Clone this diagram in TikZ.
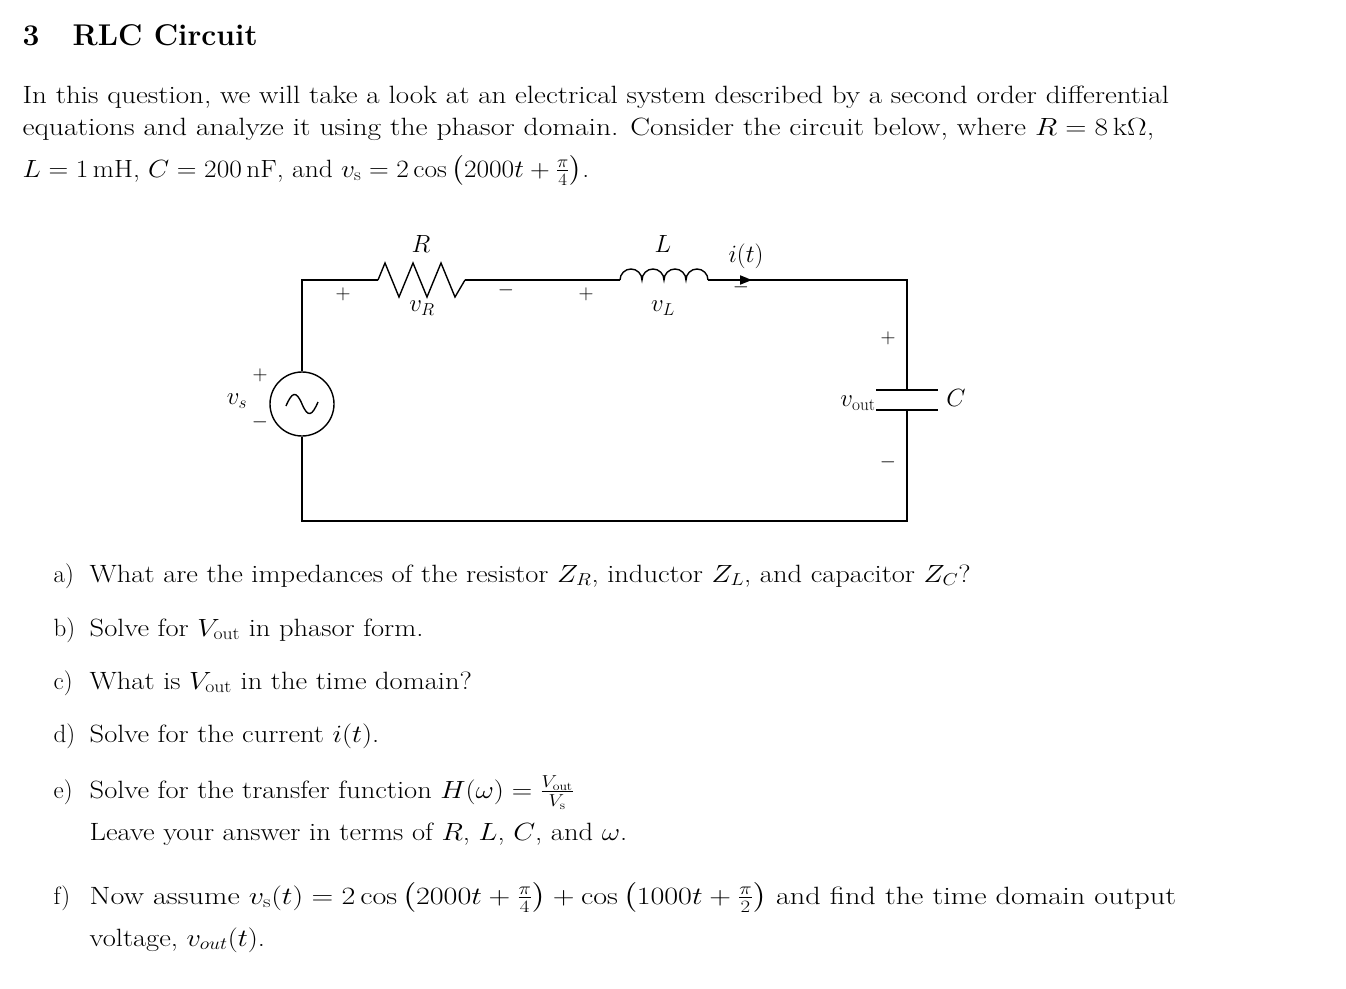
\documentclass[tikz,border=0pt]{standalone}
\usepackage{amsmath}
\usetikzlibrary{arrows.meta}
\newcommand{\Wd}[2][1.16]{\scalebox{#1}[1]{#2}}
\begin{document}
\begin{tikzpicture}[x=1pt,y=-1pt,line width=1.4pt,
  txt/.style={anchor=base west,inner sep=0pt,font=\fontsize{25}{30}\selectfont},
  lab/.style={inner sep=0pt,font=\fontsize{24}{28}\selectfont},
  sgn/.style={inner sep=0pt,font=\fontsize{22}{26}\selectfont}]
\useasboundingbox (0,0) rectangle (1346,988);
% title
\node[txt,font=\fontsize{30}{34}\selectfont\bfseries] (t1) at (22,45) {3};
\node[txt,font=\fontsize{30}{34}\selectfont\bfseries] (t2) at (72,45) {\Wd[1.0]{RLC Circuit}};
\node[txt] (p1) at (22,103) {\Wd{In this question, we will take a look at an electrical system described by a second order differential}};
\node[txt] (p2) at (22,135) {\Wd[1.18]{equations and analyze it using the phasor domain. Consider the circuit below, where $R=8\,\mathrm{k}\Omega$,}};
\node[txt] (p3) at (22,177) {\Wd[1.1]{$L=1\,\mathrm{mH}$, $C=200\,\mathrm{nF}$, and $v_{\mathrm s}=2\cos\left(2000t+\frac{\pi}{4}\right)$.}};
% circuit
\coordinate (tl) at (302,280); \coordinate (tr) at (907,280);
\coordinate (bl) at (302,521); \coordinate (br) at (907,521);
\node[circle,draw,minimum size=64pt,inner sep=0pt] (src) at (302,404) {};
\draw (src.center)+(-16,2) .. controls +(6,-14) and +(-6,-14) .. +(0,0) .. controls +(6,14) and +(-6,14) .. +(16,-2);
\coordinate (r1) at (378,280); \coordinate (r2) at (465,280);
\coordinate (l1) at (620,280); \coordinate (l2) at (708,280);
\coordinate (a2) at (787,280);
\coordinate (c1) at (907,390); \coordinate (c2) at (907,410);
\draw (src.north) -- (tl) -- (r1);
\draw (r1) -- ++(7,-17) -- ++(14,34) -- ++(14,-34) -- ++(14,34) -- ++(14,-34) -- ++(14,34) -- (r2);
\draw (r2) -- (l1);
\draw (l1) arc[start angle=180,end angle=360,radius=11] arc[start angle=180,end angle=360,radius=11] arc[start angle=180,end angle=360,radius=11] arc[start angle=180,end angle=360,radius=11];
\draw[line width=1.8pt] (l2) -- (a2);
\draw[-{Triangle[length=12pt,width=9pt]},line width=1.8pt] (l2) -- (752,280);
\draw (a2) -- (tr) -- (c1);
\draw (876,390) -- (938,390); \draw (876,410) -- (938,410);
\draw (c2) -- (br) -- (bl) -- (src.south);
% labels
\node[lab] (R) at (421,244) {$R$};
\node[lab] (vR) at (422,308) {$v_R$};
\node[lab] (L) at (663,244) {$L$};
\node[lab] (vL) at (663,308) {$v_L$};
\node[lab] (it) at (746,256) {$i(t)$};
\node[lab] (vs) at (237,401) {$v_s$};
\node[lab] (vo) at (858,403) {$v_{\mathrm{out}}$};
\node[lab] (C) at (956,398) {$C$};
\node[sgn] (s1) at (343,294) {$+$};
\node[sgn] (s2) at (506,290) {$-$};
\node[sgn] (s3) at (586,294) {$+$};
\node[sgn] (s4) at (741,287) {$-$};
\node[sgn] (s5) at (260,375) {$+$};
\node[sgn] (s6) at (260,422) {$-$};
\node[sgn] (s7) at (888,338) {$+$};
\node[sgn] (s8) at (888,462) {$-$};
% questions
\node[txt] (qa) at (53,582) {a)};
\node[txt] (qa2) at (89,582) {\Wd[1.14]{What are the impedances of the resistor $Z_R$, inductor $Z_L$, and capacitor $Z_C$?}};
\node[txt] (qb) at (53,636) {b)};
\node[txt] (qb2) at (89,636) {\Wd[1.14]{Solve for $V_{\mathrm{out}}$ in phasor form.}};
\node[txt] (qc) at (53,689) {c)};
\node[txt] (qc2) at (89,689) {\Wd[1.14]{What is $V_{\mathrm{out}}$ in the time domain?}};
\node[txt] (qd) at (53,742) {d)};
\node[txt] (qd2) at (89,742) {\Wd[1.14]{Solve for the current $i(t)$.}};
\node[txt] (qe) at (53,798) {e)};
\node[txt] (qe2) at (89,798) {\Wd[1.14]{Solve for the transfer function $H(\omega)=\frac{V_{\mathrm{out}}}{V_{\mathrm s}}$}};
\node[txt] (qe3) at (89,840) {\Wd[1.14]{Leave your answer in terms of $R$, $L$, $C$, and $\omega$.}};
\node[txt] (qf) at (53,904) {f)};
\node[txt] (qf2) at (89,904) {\Wd[1.21]{Now assume $v_{\mathrm s}(t)=2\cos\left(2000t+\frac{\pi}{4}\right)+\cos\left(1000t+\frac{\pi}{2}\right)$ and find the time domain output}};
\node[txt] (qf3) at (89,946) {\Wd[1.14]{voltage, $v_{out}(t)$.}};
\end{tikzpicture}
\end{document}
